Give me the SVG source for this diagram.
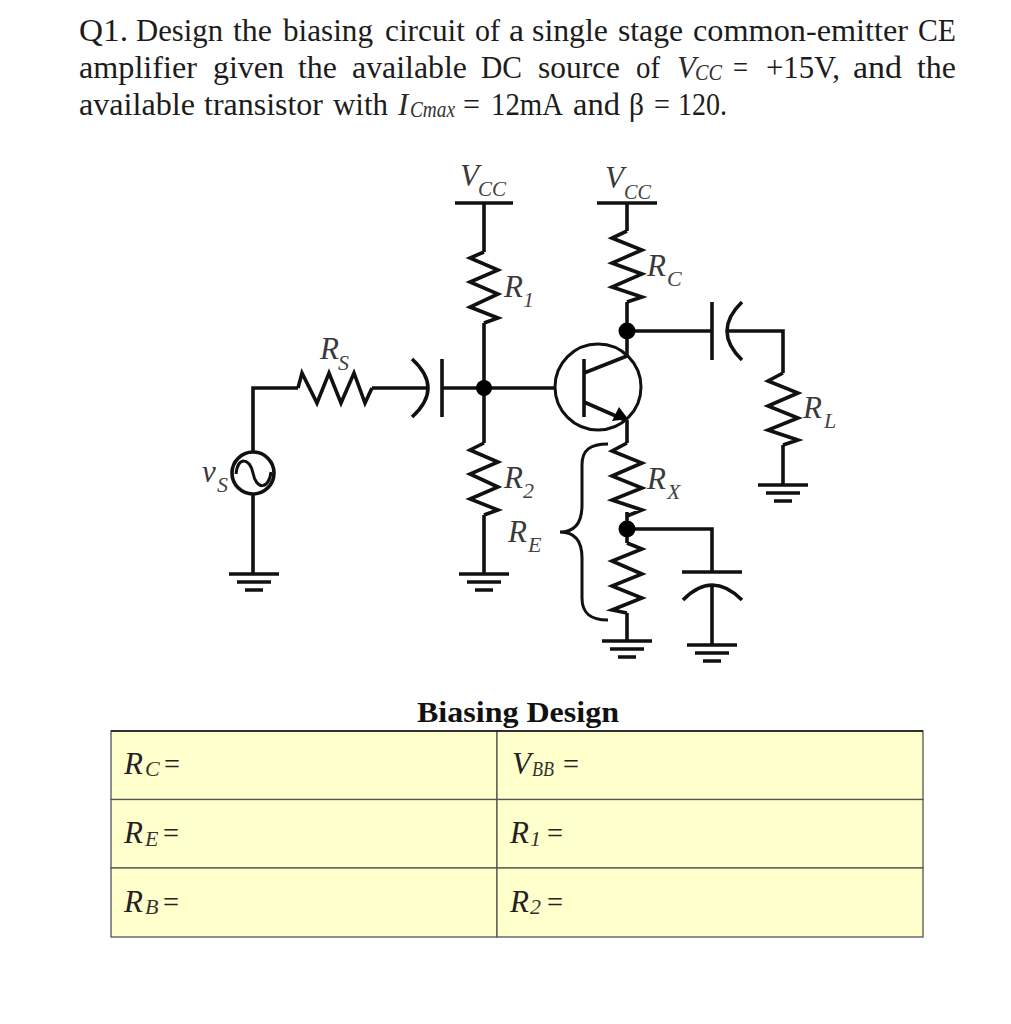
<svg xmlns="http://www.w3.org/2000/svg" width="1011" height="1024" viewBox="0 0 1011 1024">
<defs><style>
text{font-family:"Liberation Serif","DejaVu Serif",serif}
.b{fill:#1c1c1c;font-size:31px}
.bi{fill:#2a2a2a;font-size:31px;font-style:italic}
.bs{fill:#333;font-size:23px;font-style:italic}
.lab{font-style:italic;fill:#3a3a3a;font-size:31px}
.sub{font-style:italic;fill:#444;font-size:22px}
.w{fill:none;stroke:#111;stroke-width:3.6;stroke-linejoin:miter}
.th{fill:none;stroke:#111;stroke-width:3}
.d{fill:#000}
.g{fill:#ffffcc;stroke:#555;stroke-width:1.3}
.c{font-style:italic;fill:#222;font-size:31px}
.cs{font-style:italic;fill:#333;font-size:22px}
.e{fill:#222;font-size:29px}
</style>
<g id="gnd"><path class="w" d="M-25 0H25M-17 8H17M-9 16H9"/></g>
</defs>
<rect width="1011" height="1024" fill="#fff"/>
<g id="question" lengthAdjust="spacingAndGlyphs">
<text class="b" y="41" x="79" textLength="49" lengthAdjust="spacingAndGlyphs">Q1.</text>
<text class="b" y="41" x="136" textLength="87" lengthAdjust="spacingAndGlyphs">Design</text>
<text class="b" y="41" x="233" textLength="39" lengthAdjust="spacingAndGlyphs">the</text>
<text class="b" y="41" x="283" textLength="90" lengthAdjust="spacingAndGlyphs">biasing</text>
<text class="b" y="41" x="385" textLength="80" lengthAdjust="spacingAndGlyphs">circuit</text>
<text class="b" y="41" x="475" textLength="25" lengthAdjust="spacingAndGlyphs">of</text>
<text class="b" y="41" x="509" textLength="15" lengthAdjust="spacingAndGlyphs">a</text>
<text class="b" y="41" x="532" textLength="76" lengthAdjust="spacingAndGlyphs">single</text>
<text class="b" y="41" x="618" textLength="65" lengthAdjust="spacingAndGlyphs">stage</text>
<text class="b" y="41" x="693" textLength="215" lengthAdjust="spacingAndGlyphs">common-emitter</text>
<text class="b" y="41" x="918" textLength="38" lengthAdjust="spacingAndGlyphs">CE</text>
<text class="b" y="78" x="79" textLength="118" lengthAdjust="spacingAndGlyphs">amplifier</text>
<text class="b" y="78" x="213" textLength="71" lengthAdjust="spacingAndGlyphs">given</text>
<text class="b" y="78" x="298" textLength="39" lengthAdjust="spacingAndGlyphs">the</text>
<text class="b" y="78" x="352" textLength="115" lengthAdjust="spacingAndGlyphs">available</text>
<text class="b" y="78" x="481" textLength="41" lengthAdjust="spacingAndGlyphs">DC</text>
<text class="b" y="78" x="538" textLength="82" lengthAdjust="spacingAndGlyphs">source</text>
<text class="b" y="78" x="636" textLength="24" lengthAdjust="spacingAndGlyphs">of</text>
<text class="bi" y="78" x="677">V</text>
<text class="bs" y="80" x="695" textLength="27" lengthAdjust="spacingAndGlyphs">CC</text>
<text class="b" y="78" x="733" textLength="15" lengthAdjust="spacingAndGlyphs">=</text>
<text class="b" y="78" x="766" textLength="74" lengthAdjust="spacingAndGlyphs">+15V,</text>
<text class="b" y="78" x="853" textLength="49" lengthAdjust="spacingAndGlyphs">and</text>
<text class="b" y="78" x="917" textLength="39" lengthAdjust="spacingAndGlyphs">the</text>
<text class="b" y="115" x="79" textLength="116" lengthAdjust="spacingAndGlyphs">available</text>
<text class="b" y="115" x="204" textLength="119" lengthAdjust="spacingAndGlyphs">transistor</text>
<text class="b" y="115" x="333" textLength="55" lengthAdjust="spacingAndGlyphs">with</text>
<text class="bi" y="115" x="398">I</text>
<text class="bs" y="117" x="410" textLength="45" lengthAdjust="spacingAndGlyphs">Cmax</text>
<text class="b" y="115" x="463" textLength="17" lengthAdjust="spacingAndGlyphs">=</text>
<text class="b" y="115" x="491" textLength="72" lengthAdjust="spacingAndGlyphs">12mA</text>
<text class="b" y="115" x="573" textLength="47" lengthAdjust="spacingAndGlyphs">and</text>
<text class="b" y="115" x="629" textLength="15" lengthAdjust="spacingAndGlyphs">β</text>
<text class="b" y="115" x="654" textLength="16" lengthAdjust="spacingAndGlyphs">=</text>
<text class="b" y="115" x="678" textLength="49" lengthAdjust="spacingAndGlyphs">120.</text>
</g>
<g id="connectors">
<path class="w" d="M484 203V252M484 323V443M484 515V574"/>
<path class="w" d="M253 452V388H298M372 388H428M442 388H555"/>
<path class="w" d="M253 494V574"/>
<path class="w" d="M627 203V231M627 302V356M627 420V443M627 613V641M627 512V543"/>
<path class="w" d="M627 331H712M727 331H783V373M783 445V485"/>
<path class="w" d="M627 529H712V572M712 585V645"/>
</g>
<g id="vcc1"><path class="w" d="M455 203H513"/><text class="lab" x="460" y="186">V</text><text class="sub" x="478" y="196" textLength="28" lengthAdjust="spacingAndGlyphs">CC</text></g>
<g id="vcc2"><path class="w" d="M597 203H657"/><text class="lab" x="605" y="188">V</text><text class="sub" x="624" y="199" textLength="27" lengthAdjust="spacingAndGlyphs">CC</text></g>
<g id="r1"><path class="w" d="M484 252L470 258L498 270L470 282L498 294L470 307L498 318L484 323"/><text class="lab" x="504" y="297">R</text><text class="sub" x="523" y="307">1</text></g>
<g id="r2"><path class="w" d="M484 443L470 450L498 462L470 474L498 487L470 499L498 510L484 515"/><text class="lab" x="504" y="488">R</text><text class="sub" x="523" y="498">2</text></g>
<g id="rc"><path class="w" d="M627 231L612 238L642 250L612 263L642 274L612 287L642 297L627 302"/><text class="lab" x="647" y="276">R</text><text class="sub" x="667" y="286">C</text></g>
<g id="rl"><path class="w" d="M783 373L768 381L798 393L768 406L798 418L768 430L798 440L783 445"/><text class="lab" x="803" y="418">R</text><text class="sub" x="824" y="428">L</text></g>
<g id="rx"><path class="w" d="M627 443L612 451L642 463L612 476L642 488L612 500L642 510L627 516"/><text class="lab" x="647" y="489">R</text><text class="sub" x="667" y="499">X</text></g>
<g id="re-lower"><path class="w" d="M627 543L642 549L612 561L642 574L612 586L642 598L612 610L627 613"/></g>
<g id="rs"><path class="w" d="M298 388L302 373L317 403L329 373L341 403L354 373L365 403L372 388"/><text class="lab" x="320" y="359">R</text><text class="sub" x="338" y="370">S</text></g>
<g id="cin"><path class="w" d="M412 359Q444 388 412 417M442 359V417"/></g>
<g id="cout"><path class="w" d="M712 302V360M742 302Q712 331 742 360"/></g>
<g id="cbypass"><path class="w" d="M682 572H742M683 600Q712 570 742 600"/></g>
<g id="source"><circle class="w" stroke-width="4" cx="253" cy="473" r="21"/><path class="th" d="M236 474C238 456 250 458 253 473C256 490 269 490 271 472"/><text class="lab" x="202" y="482">v</text><text class="sub" x="217" y="492">S</text></g>
<g id="transistor"><circle class="th" cx="598" cy="387" r="43"/><path class="w" d="M584 359V417M584 373L627 356M584 402L625 420"/><path class="d" d="M628 419L612 421L619 407Z"/></g>
<g id="brace"><path class="th" d="M608 444C590 444 582 450 582 465V505C582 522 576 532 560 532C576 532 582 542 582 558V598C582 613 590 620 608 620"/></g>
<g id="node-j1"><circle class="d" cx="484" cy="388" r="8"/></g>
<g id="node-j2"><circle class="d" cx="627" cy="331" r="8.5"/></g>
<g id="node-j3"><circle class="d" cx="627" cy="529" r="8.5"/></g>
<g id="grounds"><use href="#gnd" x="254" y="574"/><use href="#gnd" x="484" y="574"/><use href="#gnd" x="627" y="641"/><use href="#gnd" x="712" y="645"/><use href="#gnd" x="783" y="485"/></g>
<g id="re-label"><text class="lab" x="508" y="542">R</text><text class="sub" x="528" y="552">E</text></g>
<g id="table">
<rect class="g" x="111" y="731" width="386" height="68.5"/><rect class="g" x="497" y="731" width="426" height="68.5"/>
<rect class="g" x="111" y="799.5" width="386" height="68.5"/><rect class="g" x="497" y="799.5" width="426" height="68.5"/>
<rect class="g" x="111" y="868" width="386" height="69"/><rect class="g" x="497" y="868" width="426" height="69"/>
<path d="M111 731H923" stroke="#111" stroke-width="1.4"/>
<text x="417" y="722" fill="#111" font-size="30" font-weight="bold" textLength="202" lengthAdjust="spacingAndGlyphs">Biasing Design</text>
<text class="c" x="124" y="774">R</text><text class="cs" x="145" y="776">C</text><text class="e" x="164" y="774" textLength="16" lengthAdjust="spacingAndGlyphs">=</text>
<text class="c" x="124" y="843">R</text><text class="cs" x="145" y="846">E</text><text class="e" x="163" y="843" textLength="16" lengthAdjust="spacingAndGlyphs">=</text>
<text class="c" x="124" y="912">R</text><text class="cs" x="145" y="914">B</text><text class="e" x="163" y="912" textLength="16" lengthAdjust="spacingAndGlyphs">=</text>
<text class="c" x="512" y="774">V</text><text class="cs" x="532" y="776" textLength="22" lengthAdjust="spacingAndGlyphs">BB</text><text class="e" x="563" y="774" textLength="16" lengthAdjust="spacingAndGlyphs">=</text>
<text class="c" x="510" y="843">R</text><text class="cs" x="530" y="846">1</text><text class="e" x="547" y="843" textLength="16" lengthAdjust="spacingAndGlyphs">=</text>
<text class="c" x="510" y="912">R</text><text class="cs" x="530" y="914">2</text><text class="e" x="547" y="912" textLength="16" lengthAdjust="spacingAndGlyphs">=</text>
</g>
</svg>
